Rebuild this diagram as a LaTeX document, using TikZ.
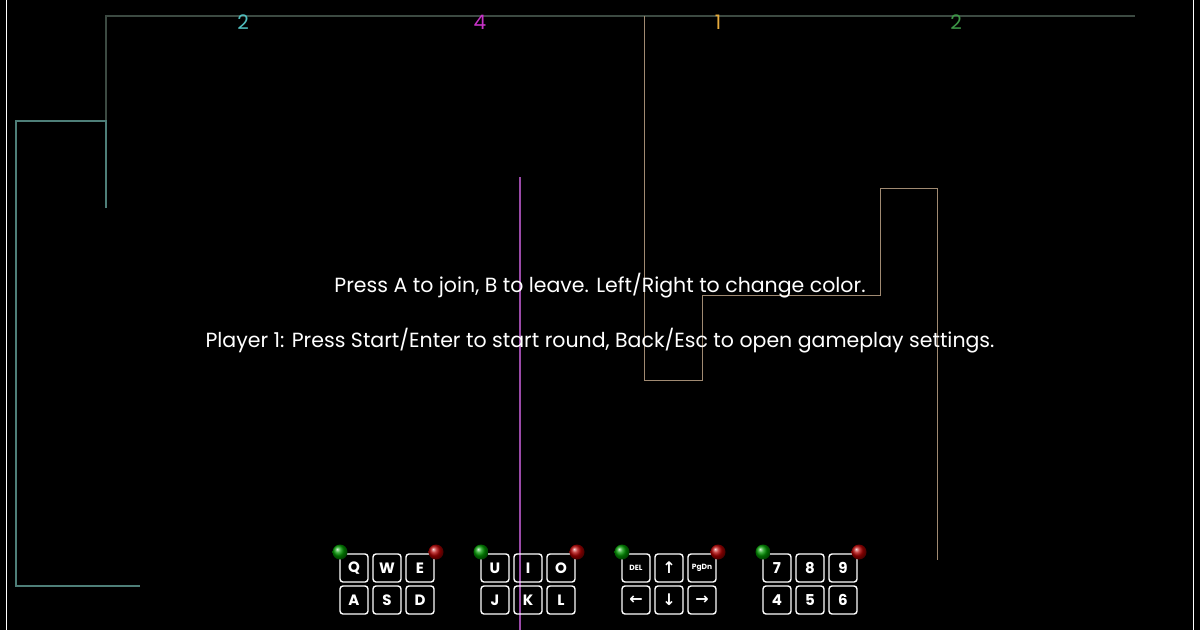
\documentclass[tikz,border=0pt]{standalone}
\usepackage{fontspec}
\setmainfont{Poppins}
\newfontfamily\arrfont{DejaVu Sans}
\begin{document}
\begin{tikzpicture}[x=1pt,y=-1pt,
  key/.style={draw=white,line width=1.4pt,rounded corners=3pt,minimum width=28pt,minimum height=28pt,inner sep=0pt,text=white,font=\fontsize{15}{15}\selectfont\bfseries},
  smallkey/.style={key,font=\fontsize{7.5}{7.5}\selectfont\bfseries},
  arrkey/.style={key,font=\arrfont\fontsize{16}{16}\selectfont\bfseries},
  msg/.style={text=white,font=\fontsize{20.5}{20.5}\selectfont},
  score/.style={font=\fontsize{20}{20}\selectfont},
  ball/.style={circle,minimum size=15pt,inner sep=0pt}]
\fill[black] (0,0) rectangle (1200,630);
\useasboundingbox (0,0) rectangle (1200,630);
\draw[white,line width=1pt] (6,0) -- (6,630) (1193,0) -- (1193,630);
\definecolor{teal2}{HTML}{4E7E78}
\definecolor{grn2}{HTML}{3C4A42}
\definecolor{tan2}{HTML}{A08A72}
\definecolor{pur2}{HTML}{9A4AA8}
\draw[grn2,line width=1.2pt] (106,121) -- (106,16) -- (1135,16);
\draw[teal2,line width=1.2pt] (140,586) -- (16,586) -- (16,121) -- (106,121) -- (106,208);
\draw[tan2,line width=1pt] (644,16) -- (644,380) -- (702,380) -- (702,295) -- (880,295) -- (880,188) -- (937,188) -- (937,560);
\draw[pur2,line width=1.2pt] (520,177) -- (520,630);
\node[score,text={rgb,255:red,80;green,190;blue,190}] (s1) at (243,22) {2};
\node[score,text={rgb,255:red,200;green,50;blue,200}] (s2) at (480,22) {4};
\node[score,text={rgb,255:red,230;green,170;blue,60}] (s3) at (718,22) {1};
\node[score,text={rgb,255:red,60;green,150;blue,70}] (s4) at (956,22) {2};
\node[msg] (m1) at (600,286) {Press A to join, B to leave. Left/Right to change color.};
\node[msg] (m2) at (600,341) {Player 1: Press Start/Enter to start round, Back/Esc to open gameplay settings.};
\foreach \g/\gx/\a/\b/\c/\d/\e/\f in {1/340/Q/W/E/A/S/D, 2/481/U/I/O/J/K/L, 4/763/7/8/9/4/5/6}{
  \node[key] (k\g a) at (\gx+14,568) {\a};
  \node[key] (k\g b) at (\gx+47,568) {\b};
  \node[key] (k\g c) at (\gx+80,568) {\c};
  \node[key] (k\g d) at (\gx+14,600) {\d};
  \node[key] (k\g e) at (\gx+47,600) {\e};
  \node[key] (k\g f) at (\gx+80,600) {\f};
}
\node[smallkey] (k3a) at (636,568) {DEL};
\node[arrkey] (k3b) at (669,568) {↑};
\node[smallkey] (k3c) at (702,568) {PgDn};
\node[arrkey] (k3d) at (636,600) {←};
\node[arrkey] (k3e) at (669,600) {↓};
\node[arrkey] (k3f) at (702,600) {→};
\foreach \gx [count=\i] in {340,481,622,763}{
  \node[ball,ball color=green!60!black] (g\i) at (\gx,552) {};
  \node[ball,ball color=red!70!black] (r\i) at (\gx+96,552) {};
}
\end{tikzpicture}
\end{document}
